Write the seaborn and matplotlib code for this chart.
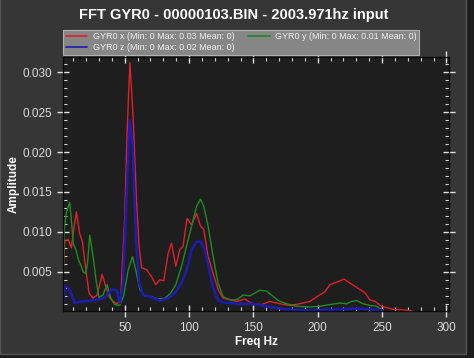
import matplotlib
matplotlib.use("Agg")
import matplotlib.pyplot as plt
from matplotlib.patches import Rectangle
from matplotlib.ticker import MultipleLocator, FormatStrFormatter
import seaborn as sns
import pandas as pd

title = "FFT GYR0 - 00000103.BIN - 2003.971hz input"
labels = ["GYR0 x (Min: 0 Max: 0.03 Mean: 0)",
          "GYR0 y (Min: 0 Max: 0.01 Mean: 0)",
          "GYR0 z (Min: 0 Max: 0.02 Mean: 0)"]

freq_x = [2.0, 3.3, 5.9, 8.5, 10.5, 12.4, 15.0, 17.1, 19.7, 22.3, 25.4, 28.5, 32.4, 35.2, 37.8,
          40.9, 44.0, 46.7, 47.4, 50.0, 51.8, 54.0, 56.5, 59.1, 61.0, 63.0, 66.9, 70.8, 74.1,
          77.2, 80.3, 83.7, 86.3, 89.7, 92.8, 95.3, 98.4, 101.9, 105.8, 108.9, 111.4, 114.8,
          118.7, 122.5, 126.4, 132.9, 136.9, 139.4, 143.3, 146.0, 149.8, 156.3, 162.8, 170.5,
          178.3, 186.0, 193.9, 200.3, 205.5, 209.4, 214.6, 220.3, 225.0, 228.8, 232.7, 236.6,
          240.5, 244.4, 249.6, 258.6, 269.0, 274.0]
amp_x = [0.0040, 0.0088, 0.0091, 0.0080, 0.0105, 0.0125, 0.0098, 0.0088, 0.0053, 0.0023, 0.0017,
         0.0021, 0.0047, 0.0032, 0.0019, 0.0013, 0.0010, 0.0015, 0.0036, 0.0119, 0.0224, 0.0312,
         0.0244, 0.0140, 0.0085, 0.0055, 0.0053, 0.0044, 0.0034, 0.0040, 0.0039, 0.0073, 0.0086,
         0.0057, 0.0078, 0.0082, 0.0117, 0.0109, 0.0123, 0.0107, 0.0103, 0.0069, 0.0048, 0.0028,
         0.0017, 0.0015, 0.0013, 0.0014, 0.0016, 0.0013, 0.0010, 0.0009, 0.0013, 0.0010, 0.0008,
         0.0010, 0.0013, 0.0020, 0.0025, 0.0034, 0.0037, 0.0041, 0.0036, 0.0032, 0.0028, 0.0024,
         0.0015, 0.0013, 0.0007, 0.0003, 0.0002, 0.0001]

freq_y = [2.0, 3.0, 4.7, 7.2, 8.5, 10.0, 12.0, 14.0, 16.0, 17.6, 19.5, 21.0, 22.8, 25.4, 28.0,
          30.0, 33.0, 36.3, 38.9, 42.2, 46.0, 49.2, 52.6, 56.0, 58.6, 61.7, 65.5, 70.8, 75.9,
          81.1, 85.5, 89.7, 94.1, 98.0, 101.9, 105.8, 108.9, 111.4, 114.8, 118.7, 122.5, 126.4,
          132.9, 138.0, 142.0, 147.2, 155.0, 160.2, 164.1, 169.2, 175.7, 183.5, 193.9, 201.6,
          209.4, 217.2, 222.4, 226.3, 230.2, 235.4, 240.5, 245.7, 250.4]
amp_y = [0.0030, 0.0105, 0.0125, 0.0137, 0.0115, 0.0085, 0.0078, 0.0065, 0.0058, 0.0050, 0.0048,
         0.0060, 0.0096, 0.0069, 0.0036, 0.0018, 0.0021, 0.0034, 0.0018, 0.0009, 0.0008, 0.0020,
         0.0052, 0.0069, 0.0052, 0.0028, 0.0020, 0.0019, 0.0016, 0.0017, 0.0023, 0.0034, 0.0057,
         0.0082, 0.0107, 0.0132, 0.0141, 0.0132, 0.0107, 0.0069, 0.0036, 0.0019, 0.0014, 0.0016,
         0.0021, 0.0020, 0.0027, 0.0026, 0.0021, 0.0014, 0.0010, 0.0007, 0.0006, 0.0007, 0.0009,
         0.0011, 0.0010, 0.0013, 0.0014, 0.0010, 0.0008, 0.0007, 0.0002]

freq_z = [2.0, 3.5, 6.0, 8.5, 11.1, 16.3, 22.8, 29.3, 34.5, 39.7, 43.6, 46.2, 48.7, 51.3, 53.9,
          56.0, 58.6, 61.2, 64.3, 69.5, 77.2, 83.7, 88.9, 94.1, 98.0, 101.9, 105.8, 108.9, 112.2,
          115.6, 118.7, 122.5, 129.0, 140.0, 150.0, 160.0, 175.0, 194.0, 217.0, 230.0, 250.0]
amp_z = [0.0008, 0.0032, 0.0030, 0.0022, 0.0011, 0.0013, 0.0014, 0.0015, 0.0018, 0.0028, 0.0027,
         0.0011, 0.0036, 0.0140, 0.0240, 0.0211, 0.0094, 0.0036, 0.0021, 0.0019, 0.0014, 0.0017,
         0.0023, 0.0036, 0.0052, 0.0077, 0.0088, 0.0088, 0.0078, 0.0052, 0.0030, 0.0014, 0.0011,
         0.0010, 0.0010, 0.0007, 0.0003, 0.0002, 0.0003, 0.0004, 0.0002]

colors = ["#e0202a", "#1e8c1e", "#1c1cb0"]
widths = [1.0, 1.0, 1.8]

sns.set_theme(style="dark")
plt.rcParams['font.family'] = ['Liberation Sans', 'DejaVu Sans']

fig = plt.figure(figsize=(4.74, 3.58), dpi=100, facecolor="#1c1c1c")
fig.patches.append(Rectangle((0, 4 / 358), 466 / 474, 1, transform=fig.transFigure,
                             facecolor="#363636", edgecolor="#555555", linewidth=1, zorder=-10))
ax = fig.add_axes([63 / 474, 1 - 311 / 358, (449 - 63) / 474, (311 - 57) / 358])
ax.set_facecolor("#1e1e1e")

frames = [pd.DataFrame({"freq": f, "amp": a}) for f, a in
          [(freq_x, amp_x), (freq_y, amp_y), (freq_z, amp_z)]]
for df, c, w, lab in zip(frames, colors, widths, labels):
    sns.lineplot(data=df, x="freq", y="amp", ax=ax, color=c, linewidth=w, label=lab)
handles, labs = ax.get_legend_handles_labels()
ax.get_legend().remove()

ax.set_xlim(2, 302)
ax.set_ylim(0.0001, 0.0319)
ax.xaxis.set_major_locator(MultipleLocator(50))
ax.xaxis.set_minor_locator(MultipleLocator(10))
ax.yaxis.set_major_locator(MultipleLocator(0.005))
ax.yaxis.set_minor_locator(MultipleLocator(0.001))
ax.yaxis.set_major_formatter(FormatStrFormatter("%.3f"))
ax.grid(False)
for s in ax.spines.values():
    s.set_color("#0a0a0a")
    s.set_linewidth(1)

ax.tick_params(which="major", direction="inout", length=8, width=1, color="#e0e0e0",
               top=True, right=True, bottom=True, left=True, labelsize=8.5,
               labelcolor="#dcdcdc", pad=4)
ax.tick_params(which="minor", direction="in", length=3, width=0.8, color="#d0d0d0",
               top=True, right=True, bottom=True, left=True)

ax.set_xlabel("Freq Hz", color="white", fontweight="bold", fontsize=8.5)
ax.set_ylabel("Amplitude", color="white", fontweight="bold", fontsize=8.5)
ax.xaxis.set_label_coords(0.5, (311 - 342) / 254)
ax.xaxis.label.set_va("center")
ax.yaxis.set_label_coords((14 - 63) / 386, 0.5)
ax.yaxis.label.set_va("center")

fig.text(234 / 474, 1 - 15 / 358, title, ha="center", va="center", color="white",
         fontweight="bold", fontsize=10.5)

order = [0, 2, 1]
leg = fig.legend([handles[i] for i in order], [labs[i] for i in order], ncol=2,
                 loc="upper left", bbox_to_anchor=(63 / 474, 1 - 29.5 / 358),
                 fontsize=6.5, frameon=True, fancybox=False, framealpha=1,
                 facecolor="#868686", edgecolor="#b0b0b0", handlelength=2.4,
                 handletextpad=0.6, columnspacing=1.5, borderpad=0.3,
                 labelspacing=0.2, borderaxespad=0)
for t in leg.get_texts():
    t.set_color("#f2f2f2")
for h in leg.legend_handles:
    h.set_linewidth(1.2)
leg.get_frame().set_linewidth(0.8)

fig.savefig("out.png", dpi=100, facecolor=fig.get_facecolor())
